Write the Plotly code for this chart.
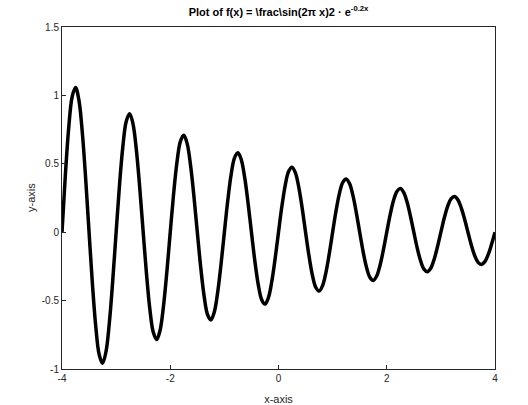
import plotly.graph_objects as go

# sampled curve values (x step 0.0625)
x_vals = [
    -4.0, -3.9375, -3.875, -3.8125, -3.75, -3.6875, -3.625, -3.5625,
    -3.5, -3.4375, -3.375, -3.3125, -3.25, -3.1875, -3.125, -3.0625,
    -3.0, -2.9375, -2.875, -2.8125, -2.75, -2.6875, -2.625, -2.5625,
    -2.5, -2.4375, -2.375, -2.3125, -2.25, -2.1875, -2.125, -2.0625,
    -2.0, -1.9375, -1.875, -1.8125, -1.75, -1.6875, -1.625, -1.5625,
    -1.5, -1.4375, -1.375, -1.3125, -1.25, -1.1875, -1.125, -1.0625,
    -1.0, -0.9375, -0.875, -0.8125, -0.75, -0.6875, -0.625, -0.5625,
    -0.5, -0.4375, -0.375, -0.3125, -0.25, -0.1875, -0.125, -0.0625,
    0.0, 0.0625, 0.125, 0.1875, 0.25, 0.3125, 0.375, 0.4375,
    0.5, 0.5625, 0.625, 0.6875, 0.75, 0.8125, 0.875, 0.9375,
    1.0, 1.0625, 1.125, 1.1875, 1.25, 1.3125, 1.375, 1.4375,
    1.5, 1.5625, 1.625, 1.6875, 1.75, 1.8125, 1.875, 1.9375,
    2.0, 2.0625, 2.125, 2.1875, 2.25, 2.3125, 2.375, 2.4375,
    2.5, 2.5625, 2.625, 2.6875, 2.75, 2.8125, 2.875, 2.9375,
    3.0, 3.0625, 3.125, 3.1875, 3.25, 3.3125, 3.375, 3.4375,
    3.5, 3.5625, 3.625, 3.6875, 3.75, 3.8125, 3.875, 3.9375,
    4.0,
]
y_vals = [
    0.0, 0.42058, 0.76742, 0.99031, 1.05850, 0.96586, 0.72999, 0.39019,
    0.0, -0.38056, -0.69439, -0.89607, -0.95777, -0.87394, -0.66053, -0.35306,
    0.0, 0.34434, 0.62831, 0.81079, 0.86663, 0.79078, 0.59767, 0.31946,
    0.0, -0.31157, -0.56852, -0.73364, -0.78416, -0.71552, -0.54079, -0.28906,
    0.0, 0.28193, 0.51442, 0.66382, 0.70953, 0.64743, 0.48933, 0.26155,
    0.0, -0.25510, -0.46547, -0.60065, -0.64201, -0.58582, -0.44276, -0.23666,
    0.0, 0.23082, 0.42117, 0.54349, 0.58092, 0.53007, 0.40063, 0.21414,
    0.0, -0.20885, -0.38109, -0.49177, -0.52564, -0.47963, -0.36250, -0.19376,
    0.0, 0.18898, 0.34483, 0.44497, 0.47561, 0.43399, 0.32801, 0.17532,
    0.0, -0.17100, -0.31201, -0.40263, -0.43035, -0.39269, -0.29679, -0.15864,
    0.0, 0.15472, 0.28232, 0.36431, 0.38940, 0.35532, 0.26855, 0.14354,
    0.0, -0.14000, -0.25545, -0.32964, -0.35234, -0.32151, -0.24300, -0.12988,
    0.0, 0.12668, 0.23114, 0.29828, 0.31881, 0.29091, 0.21987, 0.11752,
    0.0, -0.11462, -0.20915, -0.26989, -0.28848, -0.26323, -0.19895, -0.10634,
    0.0, 0.10371, 0.18924, 0.24421, 0.26102, 0.23818, 0.18001, 0.09622,
    0.0, -0.09385, -0.17124, -0.22097, -0.23618, -0.21551, -0.16288, -0.08706,
    0.0,
]
x_ticks = [-4, -2, 0, 2, 4]
x_tick_labels = ["-4", "-2", "0", "2", "4"]
y_ticks = [-1, -0.5, 0, 0.5, 1, 1.5]
y_tick_labels = ["-1", "-0.5", "0", "0.5", "1", "1.5"]

title_text = r"<b>Plot of f(x) = \frac\sin(2π x)2 · e<sup>-0.2x</sup></b>"
x_title = "x-axis"
y_title = "y-axis"
FONT = "Liberation Sans, Arial, sans-serif"

fig = go.Figure()
fig.add_trace(go.Scatter(
    x=x_vals, y=y_vals, mode="lines",
    line=dict(color="black", width=3.5, shape="spline", smoothing=1.0),
    showlegend=False, hoverinfo="skip",
))

axis_common = dict(
    showgrid=False, zeroline=False, showline=True, mirror=True,
    linecolor="#262626", linewidth=1, automargin=False,
    ticks="inside", ticklen=4, tickcolor="#262626", tickwidth=1,
    tickfont=dict(family=FONT, size=10, color="#262626"),
)

fig.update_layout(
    width=528, height=405,
    margin=dict(l=62, r=33, t=27, b=36),
    paper_bgcolor="white", plot_bgcolor="white",
    title=dict(
        text=title_text, x=0.5275, xanchor="center", y=0.971, yanchor="middle",
        font=dict(family=FONT, size=11, color="black"),
    ),
    xaxis=dict(
        range=[-4, 4], tickvals=x_ticks, ticktext=x_tick_labels,
        title=dict(text=x_title, font=dict(family=FONT, size=11, color="#262626")),
        **axis_common,
    ),
    yaxis=dict(
        range=[-1, 1.5], tickvals=y_ticks, ticktext=y_tick_labels,
        **axis_common,
    ),
    annotations=[dict(
        text=y_title, xref="paper", yref="paper", x=0, y=0.5,
        xanchor="center", yanchor="middle", xshift=-31, textangle=-90,
        showarrow=False, font=dict(family=FONT, size=11, color="#262626"),
    )],
)

fig.write_html(
    "out.html",
    config={"displayModeBar": False, "staticPlot": True},
    post_script="document.body.style.margin='0';document.body.style.overflow='hidden';",
)
